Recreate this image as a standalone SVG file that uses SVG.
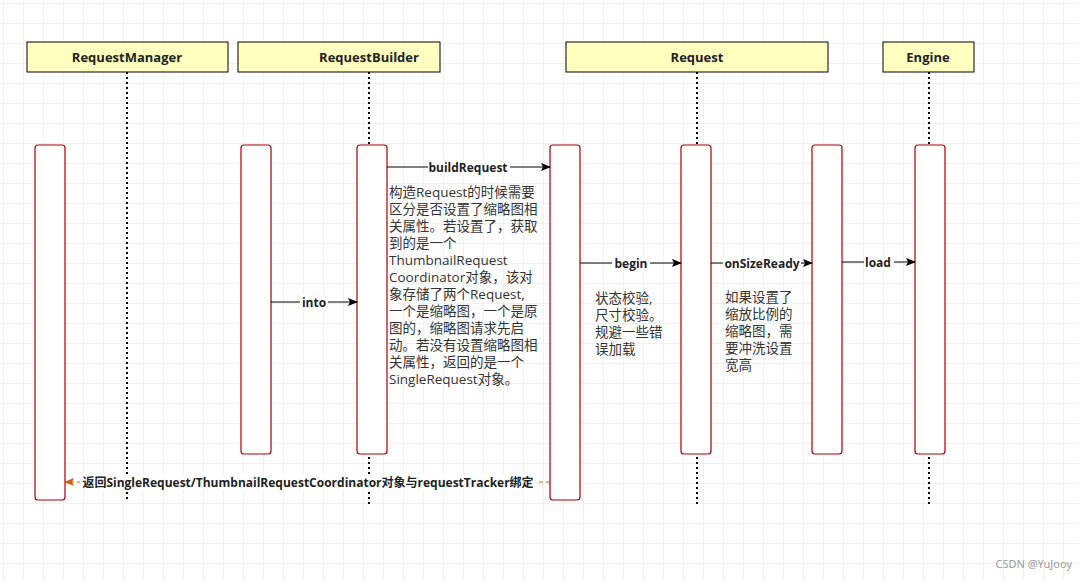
<svg xmlns="http://www.w3.org/2000/svg" width="1079" height="581" viewBox="0 0 1079 581">
<defs>
<pattern id="g" width="20" height="20" patternUnits="userSpaceOnUse" x="3" y="3"><path d="M20 0H0V20" fill="none" stroke="#e3e3e3" stroke-width="1"/></pattern>
<marker id="a" markerWidth="10" markerHeight="8" refX="9" refY="4" orient="auto" markerUnits="userSpaceOnUse"><path d="M0 0L10 4L0 8L2 4Z" fill="#000"/></marker>
<marker id="o" markerWidth="10" markerHeight="8" refX="9" refY="4" orient="auto" markerUnits="userSpaceOnUse"><path d="M0 0L10 4L0 8L2 4Z" fill="#c7620e"/></marker>
</defs>
<style>
.h{fill:#ffffc0;stroke:#000;stroke-width:1}
.ht{font:bold 13px "Open Sans","Noto Sans CJK SC",sans-serif;text-anchor:middle;fill:#222}
.ll{stroke:#000;stroke-width:2;stroke-dasharray:2 3}
.act{fill:#fff;stroke:#a00;stroke-width:1.2}
.m{stroke:#000;stroke-width:1;fill:none;marker-end:url(#a)}
.lb{font:bold 12px "Open Sans","Noto Sans CJK SC",sans-serif;text-anchor:middle;fill:#222}
.lbg{fill:#fff}
.nt{font:13.5px "Open Sans","Noto Sans CJK SC",sans-serif;fill:#333}
</style>
<rect width="1079" height="581" fill="#fff"/>
<rect width="1079" height="581" fill="url(#g)"/>
<g id="RequestManager"><rect class="h" x="27" y="42" width="201" height="30"/><text class="ht" x="127" y="62">RequestManager</text><line class="ll" x1="127" y1="72" x2="127" y2="500"/></g>
<g id="RequestBuilder"><rect class="h" x="238" y="42" width="202" height="30"/><text class="ht" x="369" y="62">RequestBuilder</text><line class="ll" x1="369" y1="72" x2="369" y2="505"/></g>
<g id="Request"><rect class="h" x="566" y="42" width="262" height="30"/><text class="ht" x="697" y="62">Request</text><line class="ll" x1="697" y1="72" x2="697" y2="505"/></g>
<g id="Engine"><rect class="h" x="883" y="42" width="91" height="30"/><text class="ht" x="928" y="62">Engine</text><line class="ll" x1="929" y1="72" x2="929" y2="505"/></g>
<g id="activations">
<rect class="act" x="35" y="145" width="30" height="355" rx="3"/>
<rect class="act" x="241" y="145" width="30" height="309" rx="3"/>
<rect class="act" x="357" y="145" width="30" height="309" rx="3"/>
<rect class="act" x="550" y="145" width="30" height="355" rx="3"/>
<rect class="act" x="681" y="145" width="30" height="309" rx="3"/>
<rect class="act" x="812" y="145" width="30" height="309" rx="3"/>
<rect class="act" x="915" y="145" width="30" height="309" rx="3"/>
</g>
<g id="connectors">
<line class="m" x1="387" y1="167" x2="550" y2="167"/>
<rect class="lbg" x="428" y="159" width="82" height="16"/><text class="lb" x="468" y="172">buildRequest</text>
<line class="m" x1="271" y1="302" x2="357" y2="302"/>
<rect class="lbg" x="300" y="294" width="28" height="16"/><text class="lb" x="314" y="307">into</text>
<line class="m" x1="580" y1="263" x2="681" y2="263"/>
<rect class="lbg" x="612" y="255" width="38" height="16"/><text class="lb" x="631" y="268">begin</text>
<line class="m" x1="711" y1="263" x2="812" y2="263"/>
<rect class="lbg" x="723" y="255" width="78" height="16"/><text class="lb" x="762" y="268">onSizeReady</text>
<line class="m" x1="842" y1="262" x2="915" y2="262"/>
<rect class="lbg" x="864" y="254" width="30" height="16"/><text class="lb" x="878" y="267">load</text>
<line x1="550" y1="482" x2="65" y2="482" stroke="#c7620e" stroke-dasharray="4 3" marker-end="url(#o)"/>
<rect class="lbg" x="80" y="474" width="456" height="16"/><text class="lb" x="308" y="487">返回SingleRequest/ThumbnailRequestCoordinator对象与requestTracker绑定</text>
</g>
<g id="notes">
<text class="nt"><tspan x="389" y="197">构造Request的时候需要</tspan><tspan x="389" y="214">区分是否设置了缩略图相</tspan><tspan x="389" y="231">关属性。若设置了，获取</tspan><tspan x="389" y="248">到的是一个</tspan><tspan x="389" y="265">ThumbnailRequest</tspan><tspan x="389" y="282">Coordinator对象，该对</tspan><tspan x="389" y="299">象存储了两个Request,</tspan><tspan x="389" y="316">一个是缩略图，一个是原</tspan><tspan x="389" y="333">图的，缩略图请求先启</tspan><tspan x="389" y="350">动。若没有设置缩略图相</tspan><tspan x="389" y="367">关属性，返回的是一个</tspan><tspan x="389" y="384">SingleRequest对象。</tspan></text>
<text class="nt"><tspan x="595" y="303">状态校验,</tspan><tspan x="595" y="320">尺寸校验。</tspan><tspan x="595" y="337">规避一些错</tspan><tspan x="595" y="354">误加载</tspan></text>
<text class="nt"><tspan x="725" y="302">如果设置了</tspan><tspan x="725" y="319">缩放比例的</tspan><tspan x="725" y="336">缩略图，需</tspan><tspan x="725" y="353">要冲洗设置</tspan><tspan x="725" y="370">宽高</tspan></text>
</g>
<text x="1072" y="568" text-anchor="end" style="font:11px 'Noto Sans',sans-serif;fill:#999">CSDN @YuJooy</text>
</svg>
